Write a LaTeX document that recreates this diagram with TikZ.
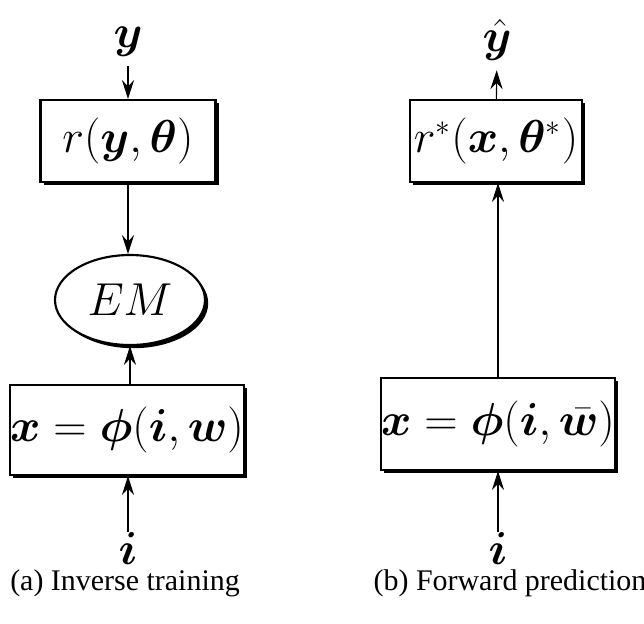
\documentclass[tikz,border=0pt]{standalone}
\usepackage{amsmath,bm}
\usepackage{fontspec}
\setmainfont{Liberation Serif}
\usetikzlibrary{shadows,shapes.geometric,arrows.meta}
\tikzset{
  block/.style={draw, fill=white, thick, inner sep=0pt, font=\fontsize{16}{18}\selectfont,
    drop shadow={shadow xshift=1.2pt, shadow yshift=-1.2pt, fill=black, opacity=1}},
  flow/.style={-{Stealth[length=7pt,width=4.5pt]}},
  lbl/.style={font=\fontsize{16}{18}\selectfont},
  caption/.style={font=\fontsize{11.2}{13}\selectfont}
}
\begin{document}
\begin{tikzpicture}[x=0.374pt, y=-0.374pt]
	\useasboundingbox (0,0) rectangle (644,623);

	% left: inverse training
	\node[lbl] (y) at (128,42) {$\bm{y}$};
	\node[block, minimum width=175*0.374pt, minimum height=82*0.374pt] (r) at (128,141) {$r(\bm{y},\bm{\theta})$};
	\node[block, ellipse, minimum width=150*0.374pt, minimum height=90*0.374pt] (em) at (130,300) {$EM$};
	\node[block, minimum width=230*0.374pt, minimum height=90*0.374pt] (phi) at (127,430) {$\bm{x}=\bm{\phi}(\bm{i},\bm{w})$};
	\node[lbl] (i) at (128,548) {$\bm{i}$};
	\coordinate (iu) at (128,532);
	\node[caption] (capa) at (125,583) {(a) Inverse training};

	\draw[flow] (y) -- (r);
	\draw[flow] (r) -- (r |- em.north);
	\draw[flow] (phi.north -| em.south) -- (em.south);
	\draw[flow] (iu) -- (iu |- phi.south);

	% right: forward prediction
	\node[lbl] (yh) at (497,40) {$\hat{\bm{y}}$};
	\node[block, minimum width=172*0.374pt, minimum height=82*0.374pt] (rs) at (496,141) {$r^*(\bm{x},\bm{\theta}^*)$};
	\node[block, minimum width=227*0.374pt, minimum height=92*0.374pt] (phib) at (498,424) {$\bm{x}=\bm{\phi}(\bm{i},\bar{\bm{w}})$};
	\node[lbl] (ib) at (498,548) {$\bm{i}$};
	\coordinate (ibu) at (498,532);
	\node[caption] (capb) at (510,583) {(b) Forward prediction};

	\draw[flow] (rs) -- (yh);
	\draw[flow] (phib) -- (phib |- rs.south);
	\draw[flow] (ibu) -- (ibu |- phib.south);
\end{tikzpicture}
\end{document}
